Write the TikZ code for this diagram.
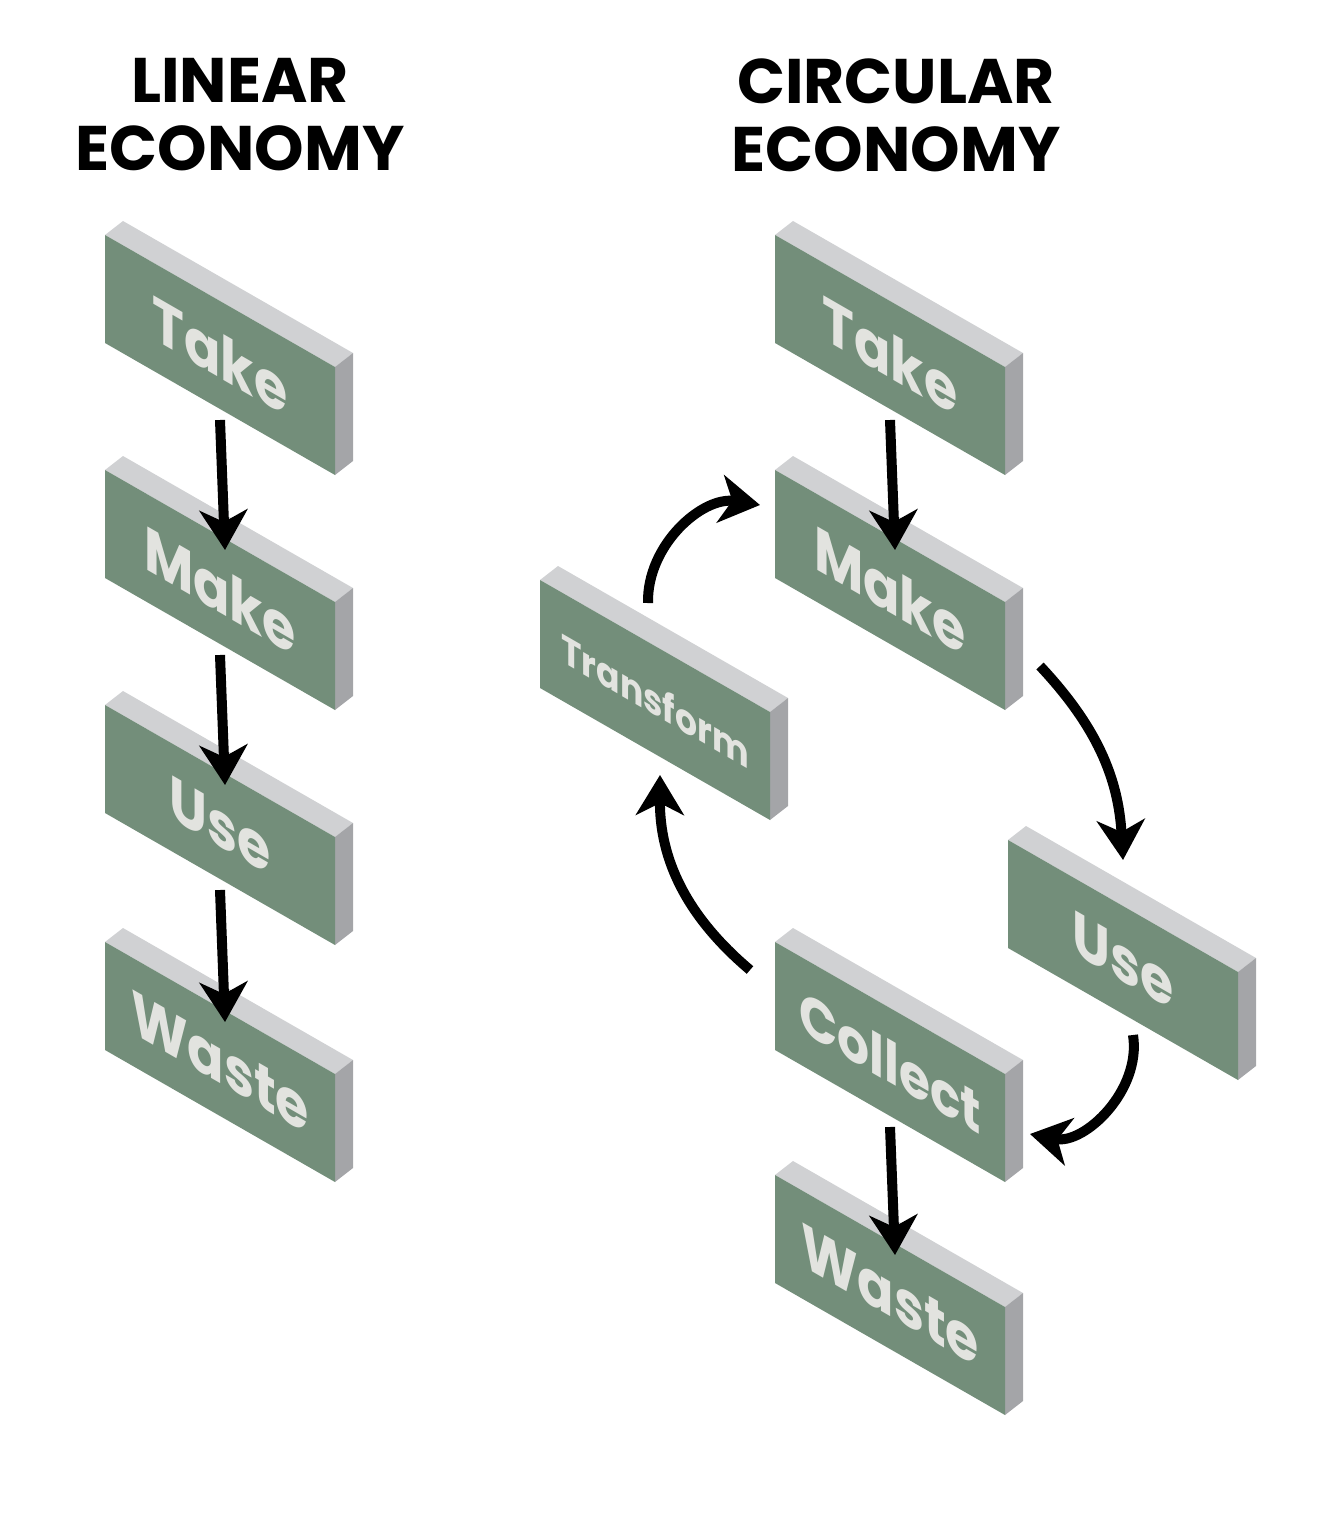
\documentclass[tikz,border=0pt]{standalone}
\usepackage{fontspec}
\setmainfont{Poppins}
\usetikzlibrary{arrows.meta,calc}

\definecolor{facegreen}{HTML}{738E7A}
\definecolor{topgray}{HTML}{D0D1D3}
\definecolor{sidegray}{HTML}{A4A5A8}
\definecolor{labelwhite}{HTML}{E2E3DF}

\tikzset{
  face/.style={fill=facegreen},
  topface/.style={fill=topgray},
  sideface/.style={fill=sidegray},
  flow/.style={draw,line width=10pt,-{Stealth[length=40pt,width=48pt,inset=12pt]}},
  title/.style={font=\fontsize{63}{68}\selectfont\bfseries,align=center},
}

% \block{name}{x}{y}{label}{size}
\newcommand{\block}[5]{%
  \fill[topface] (#2,#3) -- ++(18,-14) -- ++(230,132) -- ++(-18,14) -- cycle;
  \fill[sideface] (#2+230,#3+132) -- ++(18,-14) -- ++(0,108) -- ++(-18,14) -- cycle;
  \fill[face] (#2,#3) -- ++(230,132) -- ++(0,108) -- ++(-230,-132) -- cycle;
  \coordinate (#1) at (#2+115,#3+120);
  \begin{scope}[shift={(#1)},cm={0.866,-0.5,0,1,(0,0)}]
    \node[transform shape,text=labelwhite,
      font=\fontsize{#5}{#5}\selectfont\bfseries] (#1-text) at (0,0) {#4};
  \end{scope}}

\begin{document}
\begin{tikzpicture}[x=1pt,y=-1pt]
  \useasboundingbox (0,0) rectangle (1338,1525);
  % titles
  \node[title] (ltitle) at (240,115) {LINEAR\\ECONOMY};
  \node[title] (ctitle) at (896,115) {CIRCULAR\\ECONOMY};
  % linear economy
  \block{ltake}{105}{235}{Take}{62}
  \block{lmake}{105}{470}{Make}{62}
  \block{luse}{105}{705}{Use}{62}
  \block{lwaste}{105}{942}{Waste}{62}
  % circular economy
  \block{ctake}{775}{235}{Take}{62}
  \block{cmake}{775}{470}{Make}{62}
  \block{ctrans}{540}{580}{Transform}{40}
  \block{cuse}{1008}{840}{Use}{62}
  \block{ccollect}{775}{942}{Collect}{58}
  \block{cwaste}{775}{1175}{Waste}{62}
  % arrows
  \draw[flow] ($(ltake)+(0,65)$) -- ($(lmake)+(5,-40)$);
  \draw[flow] ($(lmake)+(0,65)$) -- ($(luse)+(5,-40)$);
  \draw[flow] ($(luse)+(0,65)$) -- ($(lwaste)+(5,-40)$);
  \draw[flow] ($(ctake)+(0,65)$) -- ($(cmake)+(5,-40)$);
  \draw[flow] ($(ccollect)+(0,65)$) -- ($(cwaste)+(5,-40)$);
  \draw[flow] ($(cmake)+(150,76)$) to[bend left=20] ($(cuse)+(0,-100)$);
  \draw[flow] ($(cuse)+(10,75)$) to[bend left=55] ($(ccollect)+(140,72)$);
  \draw[flow] ($(ccollect)+(-140,-92)$) to[bend left=25] ($(ctrans)+(5,75)$);
  \draw[flow] ($(ctrans)+(-7,-97)$) to[bend left=50] ($(cmake)+(-130,-85)$);
\end{tikzpicture}
\end{document}
